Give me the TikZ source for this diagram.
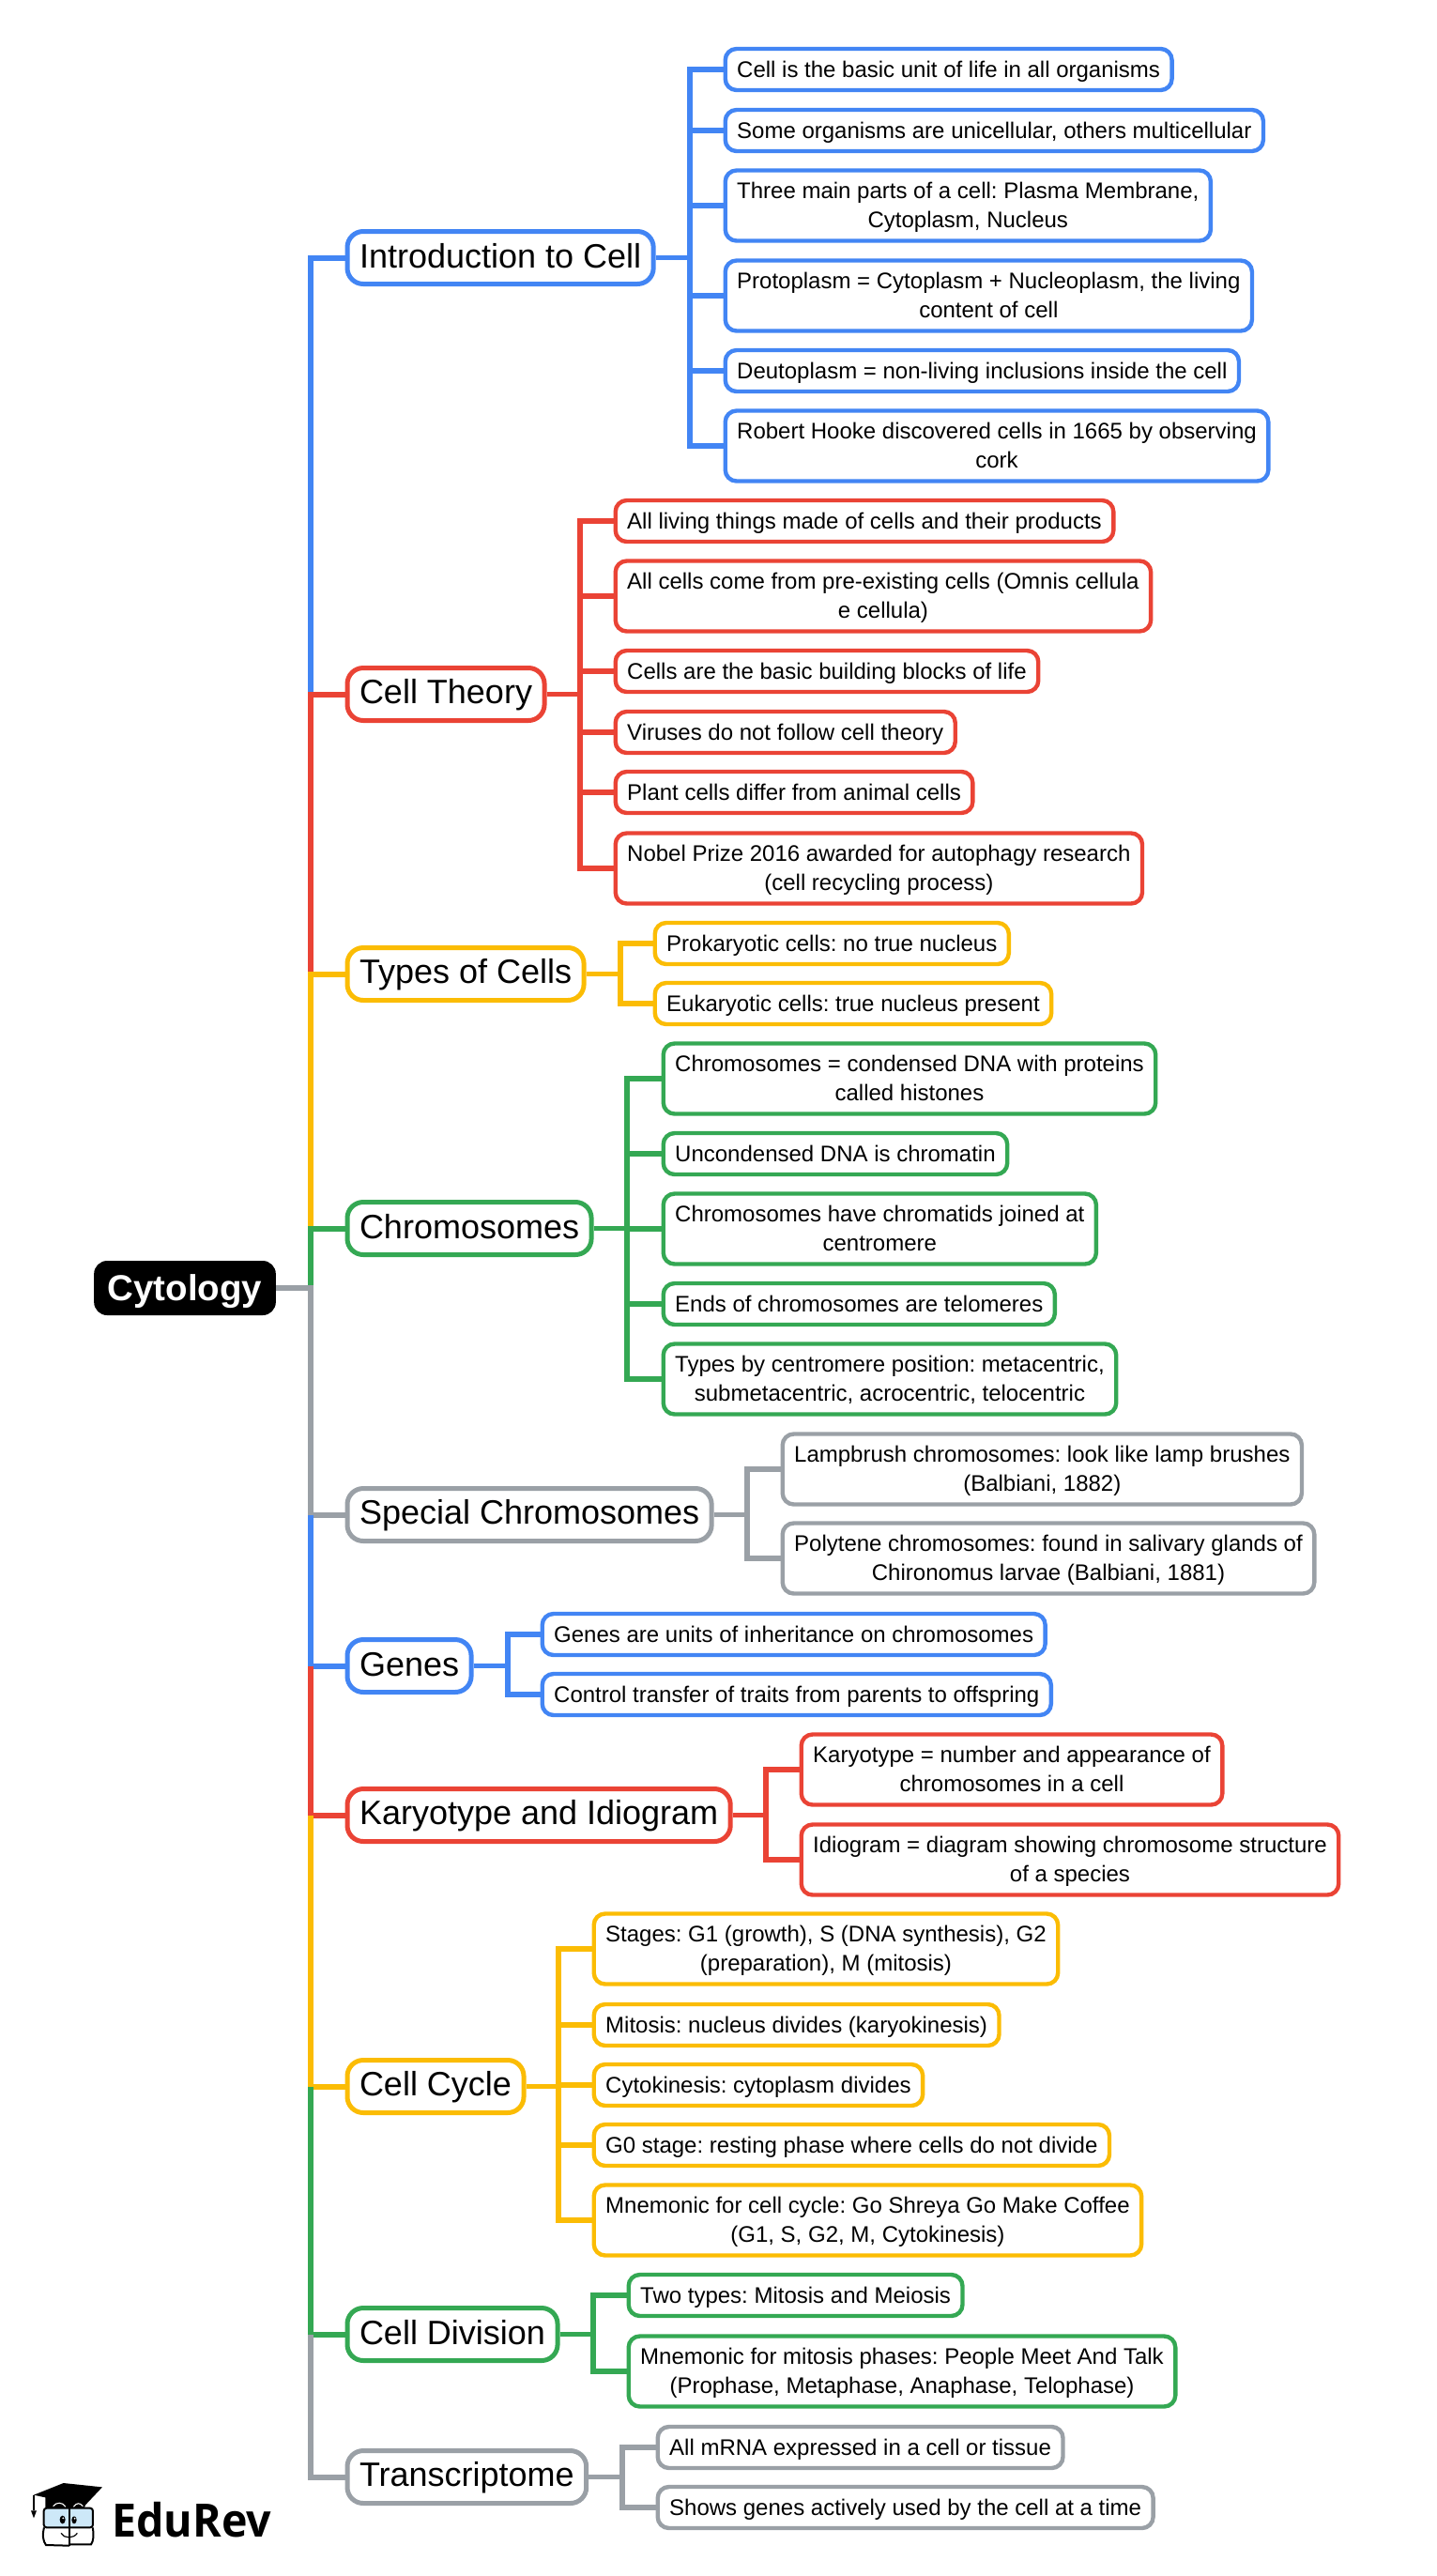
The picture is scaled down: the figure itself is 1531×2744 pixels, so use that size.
\documentclass[tikz,border=0pt]{standalone}
\usepackage{fontspec}
\setmainfont{Liberation Sans}
\newfontfamily\logofont{Open Sans}
\usetikzlibrary{positioning}
\definecolor{bluec}{RGB}{66,133,244}
\definecolor{redc}{RGB}{234,67,53}
\definecolor{yellowc}{RGB}{251,188,4}
\definecolor{greenc}{RGB}{52,168,83}
\definecolor{grayc}{RGB}{154,160,166}
\definecolor{glassc}{RGB}{205,232,248}
\frenchspacing
\tikzset{
	rootnode/.style={fill=black,text=white,rounded corners=14pt,inner sep=0pt,inner xsep=14.5pt,minimum height=58pt,text height=30pt,text depth=4pt,font=\fontsize{38.5}{44}\selectfont\bfseries},
	mainnode/.style={draw=#1,fill=white,line width=5pt,rounded corners=17pt,anchor=west,align=center,inner xsep=13pt,inner ysep=0pt,minimum height=56pt,yshift=-1.5pt,xshift=-1.5pt,font=\fontsize{36}{42}\selectfont,
		execute at begin node=\rule{0pt}{28pt},execute at end node=\rule[-7pt]{0pt}{7pt}},
	leaf/.style={draw=#1,fill=white,line width=4.4pt,rounded corners=12pt,anchor=west,align=center,inner xsep=12.5pt,inner ysep=0pt,minimum height=44pt,yshift=-1pt,xshift=-1.5pt,font=\fontsize{24}{31}\selectfont,
		execute at begin node=\rule{0pt}{22pt},execute at end node=\rule[-5.5pt]{0pt}{5.5pt}},
	leaftwo/.style={leaf=#1,minimum height=75pt,execute at begin node=\rule{0pt}{52pt}},
	trunk/.style={draw=#1,line width=6pt},
	twig/.style={draw=#1,line width=5.5pt}
}
\begin{document}
\begin{tikzpicture}[x=1pt,y=-1pt]
	\useasboundingbox (0,0) rectangle (1531,2744);

	% Root
	\node[rootnode] (root) at (197,1372) {Cytology};
	\coordinate (hub) at (331,1372);

	% Main branches
	\node[mainnode=bluec] (intro) at (369,273) {Introduction to Cell};
	\node[mainnode=redc] (theory) at (369,738) {Cell Theory};
	\node[mainnode=yellowc] (types) at (369,1036) {Types of Cells};
	\node[mainnode=greenc] (chromo) at (369,1307) {Chromosomes};
	\node[mainnode=grayc] (special) at (369,1612) {Special Chromosomes};
	\node[mainnode=bluec] (genes) at (369,1773) {Genes};
	\node[mainnode=redc] (karyo) at (369,1932) {Karyotype and Idiogram};
	\node[mainnode=yellowc] (cycle) at (369,2221) {Cell Cycle};
	\node[mainnode=greenc] (division) at (369,2485) {Cell Division};
	\node[mainnode=grayc] (transcript) at (369,2637) {Transcriptome};

	% Introduction to Cell
	\node[leaf=bluec] (intro1) at (772,73) {Cell is the basic unit of life in all organisms};
	\node[leaf=bluec] (intro2) at (772,138) {Some organisms are unicellular, others multicellular};
	\node[leaftwo=bluec] (intro3) at (772,218) {Three main parts of a cell: Plasma Membrane,\\Cytoplasm, Nucleus};
	\node[leaftwo=bluec] (intro4) at (772,314) {Protoplasm = Cytoplasm + Nucleoplasm, the living\\content of cell};
	\node[leaf=bluec] (intro5) at (772,394) {Deutoplasm = non-living inclusions inside the cell};
	\node[leaftwo=bluec] (intro6) at (772,474) {Robert Hooke discovered cells in 1665 by observing\\cork};

	% Cell Theory
	\node[leaf=redc] (theory1) at (655,554) {All living things made of cells and their products};
	\node[leaftwo=redc] (theory2) at (655,634) {All cells come from pre-existing cells (Omnis cellula\\e cellula)};
	\node[leaf=redc] (theory3) at (655,714) {Cells are the basic building blocks of life};
	\node[leaf=redc] (theory4) at (655,779) {Viruses do not follow cell theory};
	\node[leaf=redc] (theory5) at (655,843) {Plant cells differ from animal cells};
	\node[leaftwo=redc] (theory6) at (655,924) {Nobel Prize 2016 awarded for autophagy research\\(cell recycling process)};

	% Types of Cells
	\node[leaf=yellowc] (types1) at (697,1004) {Prokaryotic cells: no true nucleus};
	\node[leaf=yellowc] (types2) at (697,1068) {Eukaryotic cells: true nucleus present};

	% Chromosomes
	\node[leaftwo=greenc] (chromo1) at (706,1148) {Chromosomes = condensed DNA with proteins\\called histones};
	\node[leaf=greenc] (chromo2) at (706,1228) {Uncondensed DNA is chromatin};
	\node[leaftwo=greenc] (chromo3) at (706,1308) {Chromosomes have chromatids joined at\\centromere};
	\node[leaf=greenc] (chromo4) at (706,1388) {Ends of chromosomes are telomeres};
	\node[leaftwo=greenc] (chromo5) at (706,1468) {Types by centromere position: metacentric,\\submetacentric, acrocentric, telocentric};

	% Special Chromosomes
	\node[leaftwo=grayc] (special1) at (833,1564) {Lampbrush chromosomes: look like lamp brushes\\(Balbiani, 1882)};
	\node[leaftwo=grayc] (special2) at (833,1659) {Polytene chromosomes: found in salivary glands of\\Chironomus larvae (Balbiani, 1881)};

	% Genes
	\node[leaf=bluec] (genes1) at (577,1740) {Genes are units of inheritance on chromosomes};
	\node[leaf=bluec] (genes2) at (577,1804) {Control transfer of traits from parents to offspring};

	% Karyotype and Idiogram
	\node[leaftwo=redc] (karyo1) at (853,1884) {Karyotype = number and appearance of\\chromosomes in a cell};
	\node[leaftwo=redc] (karyo2) at (853,1980) {Idiogram = diagram showing chromosome structure\\of a species};

	% Cell Cycle
	\node[leaftwo=yellowc] (cycle1) at (632,2075) {Stages: G1 (growth), S (DNA synthesis), G2\\(preparation), M (mitosis)};
	\node[leaf=yellowc] (cycle2) at (632,2156) {Mitosis: nucleus divides (karyokinesis)};
	\node[leaf=yellowc] (cycle3) at (632,2220) {Cytokinesis: cytoplasm divides};
	\node[leaf=yellowc] (cycle4) at (632,2284) {G0 stage: resting phase where cells do not divide};
	\node[leaftwo=yellowc] (cycle5) at (632,2364) {Mnemonic for cell cycle: Go Shreya Go Make Coffee\\(G1, S, G2, M, Cytokinesis)};

	% Cell Division
	\node[leaf=greenc] (division1) at (669,2444) {Two types: Mitosis and Meiosis};
	\node[leaftwo=greenc] (division2) at (669,2525) {Mnemonic for mitosis phases: People Meet And Talk\\(Prophase, Metaphase, Anaphase, Telophase)};

	% Transcriptome
	\node[leaf=grayc] (transcript1) at (700,2606) {All mRNA expressed in a cell or tissue};
	\node[leaf=grayc] (transcript2) at (700,2670) {Shows genes actively used by the cell at a time};

	% Trunk, top and bottom parts
	\draw[trunk=bluec] (intro.west) -| (theory.west -| hub);
	\draw[trunk=redc] (theory.west) -| (types.west -| hub);
	\draw[trunk=yellowc] (types.west) -| (chromo.west -| hub);
	\draw[trunk=greenc] (chromo.west) -| (hub);
	\draw[trunk=grayc] (root.east) -- (hub) |- (special.west);
	\draw[trunk=bluec] (special.west -| hub) |- (genes.west);
	\draw[trunk=redc] (genes.west -| hub) |- (karyo.west);
	\draw[trunk=yellowc] (karyo.west -| hub) |- (cycle.west);
	\draw[trunk=greenc] (cycle.west -| hub) |- (division.west);
	\draw[trunk=grayc] (division.west -| hub) |- (transcript.west);

	% Twigs
	\foreach \parent/\col/\bus/\kids in {
		intro/bluec/735/{1,2,3,4,5,6},
		theory/redc/618/{1,2,3,4,5,6},
		types/yellowc/661/{1,2},
		chromo/greenc/668/{1,2,3,4,5},
		special/grayc/796/{1,2},
		genes/bluec/541/{1,2},
		karyo/redc/816/{1,2},
		cycle/yellowc/595/{1,2,3,4,5},
		division/greenc/632/{1,2},
		transcript/grayc/663/{1,2}}{
		\coordinate (\parent bus) at (\bus,0);
		\draw[twig=\col] (\parent.east) -- (\parent bus |- \parent.east);
		\foreach \k in \kids {
			\draw[twig=\col] (\parent bus |- \parent.east) |- (\parent\k.west);
		}
	}

	% Logo
	\node[anchor=base west,inner sep=0pt,text=black,xscale=.95,font=\fontsize{49}{49}\selectfont\logofont\bfseries] (logotext) at (119,2702) {EduRev};
	\begin{scope}[shift={(25,2635)},x=.3333pt,y=-.3333pt]
		% cap
		\fill[black] (33,68) -- (128,30) -- (252,43) -- (198,100) -- (195,108) -- (70,108) -- (70,76) -- cycle;
		\draw[black,line width=1.4pt] (33,68) -- (33,118);
		\fill[black] (24,118) -- (42,118) -- (33,142) -- cycle;
		\draw[white,line width=1.1pt] (95,104) .. controls (105,90) and (125,90) .. (135,106);
		\draw[white,line width=1.1pt] (160,106) .. controls (170,92) and (180,92) .. (190,104);
		% glasses and face
		\draw[black,line width=2pt,fill=glassc,rounded corners=3pt] (65,110) rectangle (222,172);
		\draw[black,line width=2pt] (66,172) .. controls (60,195) and (62,215) .. (72,228) -- (147,230);
		\draw[black,line width=2pt] (221,172) .. controls (226,195) and (224,215) .. (216,226) -- (147,226);
		\draw[black,line width=2pt] (147,105) -- (147,232);
		\fill[black] (125,147) ellipse [x radius=9,y radius=13];
		\fill[black] (162,148) ellipse [x radius=8,y radius=12];
		\fill[white] (127,142) circle [radius=3];
		\fill[white] (164,143) circle [radius=3];
		\draw[black,line width=1.2pt] (120,190) .. controls (130,208) and (160,208) .. (172,190);
	\end{scope}
\end{tikzpicture}
\end{document}
